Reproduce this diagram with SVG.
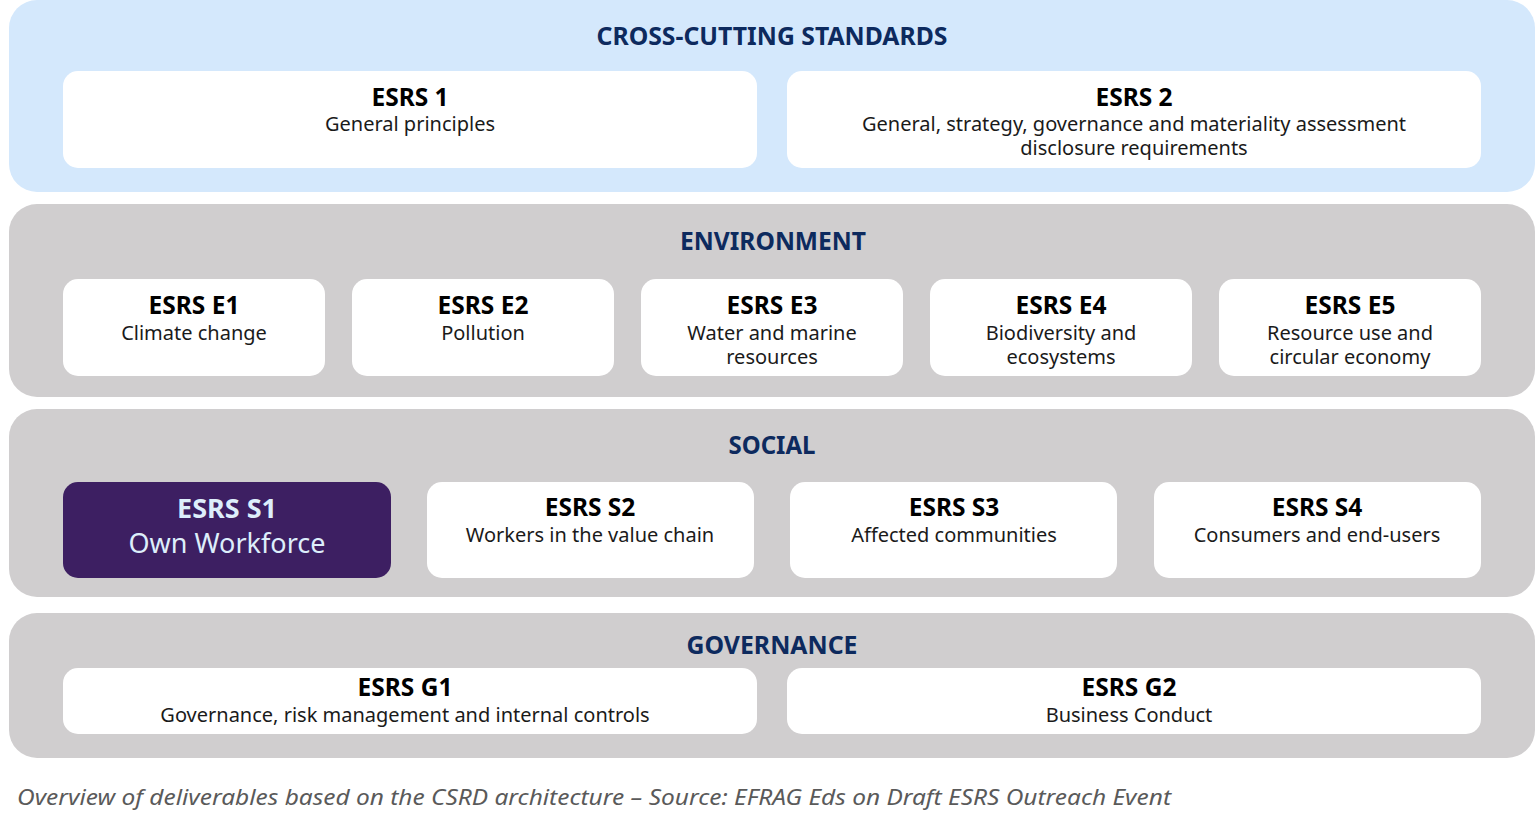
<svg xmlns="http://www.w3.org/2000/svg" width="1536" height="829" viewBox="0 0 1536 829">
<style>
.bg{fill:#ffffff}
.p-blue{fill:#D4E8FC}
.p-grey{fill:#D0CECF}
.box{fill:#ffffff}
.box-hi{fill:#3D1F62}
.head{font-family:"Noto Sans","Open Sans",sans-serif;font-weight:700;font-size:24.5px;fill:#0D2A5E;text-anchor:middle}
.t{font-family:"Noto Sans","Open Sans",sans-serif;font-weight:700;font-size:24.5px;fill:#000000;text-anchor:middle}
.d{font-family:"Noto Sans","Open Sans",sans-serif;font-size:20px;fill:#1a1a1a;text-anchor:middle}
.t-hi{font-family:"Noto Sans","Open Sans",sans-serif;font-weight:700;font-size:27px;fill:#DDEEFB;text-anchor:middle}
.d-hi{font-family:"Noto Sans","Open Sans",sans-serif;font-size:27px;fill:#DDEEFB;text-anchor:middle}
.cap{font-family:"Noto Sans","Open Sans",sans-serif;font-style:italic;font-size:22px;fill:#5A5A5A}
</style>
<rect class="bg" x="0" y="0" width="1536" height="829"/>

<g id="panel-cross-cutting">
<rect class="p-blue" x="9" y="0" width="1526" height="192" rx="28"/>
<text class="head" x="772" y="45" textLength="351" lengthAdjust="spacingAndGlyphs">CROSS-CUTTING STANDARDS</text>
</g>
<g id="panel-environment">
<rect class="p-grey" x="9" y="204" width="1526" height="193" rx="28"/>
<text class="head" x="773" y="250" textLength="186" lengthAdjust="spacingAndGlyphs">ENVIRONMENT</text>
</g>
<g id="panel-social">
<rect class="p-grey" x="9" y="409" width="1526" height="188" rx="28"/>
<text class="head" x="772" y="454" textLength="87" lengthAdjust="spacingAndGlyphs">SOCIAL</text>
</g>
<g id="panel-governance">
<rect class="p-grey" x="9" y="613" width="1526" height="145" rx="28"/>
<text class="head" x="772" y="654" textLength="171" lengthAdjust="spacingAndGlyphs">GOVERNANCE</text>
</g>

<g id="esrs1">
<rect class="box" x="63" y="71" width="694" height="97" rx="15"/>
<text class="t" x="410" y="106">ESRS 1</text>
<text class="d" x="410" y="131">General principles</text>
</g>
<g id="esrs2">
<rect class="box" x="787" y="71" width="694" height="97" rx="15"/>
<text class="t" x="1134" y="106">ESRS 2</text>
<text class="d" x="1134" y="131">General, strategy, governance and materiality assessment</text>
<text class="d" x="1134" y="155">disclosure requirements</text>
</g>

<g id="esrs-e1">
<rect class="box" x="63" y="279" width="262" height="97" rx="15"/>
<text class="t" x="194" y="314">ESRS E1</text>
<text class="d" x="194" y="340">Climate change</text>
</g>
<g id="esrs-e2">
<rect class="box" x="352" y="279" width="262" height="97" rx="15"/>
<text class="t" x="483" y="314">ESRS E2</text>
<text class="d" x="483" y="340">Pollution</text>
</g>
<g id="esrs-e3">
<rect class="box" x="641" y="279" width="262" height="97" rx="15"/>
<text class="t" x="772" y="314">ESRS E3</text>
<text class="d" x="772" y="340">Water and marine</text>
<text class="d" x="772" y="364">resources</text>
</g>
<g id="esrs-e4">
<rect class="box" x="930" y="279" width="262" height="97" rx="15"/>
<text class="t" x="1061" y="314">ESRS E4</text>
<text class="d" x="1061" y="340">Biodiversity and</text>
<text class="d" x="1061" y="364">ecosystems</text>
</g>
<g id="esrs-e5">
<rect class="box" x="1219" y="279" width="262" height="97" rx="15"/>
<text class="t" x="1350" y="314">ESRS E5</text>
<text class="d" x="1350" y="340">Resource use and</text>
<text class="d" x="1350" y="364">circular economy</text>
</g>

<g id="esrs-s1">
<rect class="box-hi" x="63" y="482" width="328" height="96" rx="15"/>
<text class="t-hi" x="227" y="518">ESRS S1</text>
<text class="d-hi" x="227" y="553">Own Workforce</text>
</g>
<g id="esrs-s2">
<rect class="box" x="427" y="482" width="327" height="96" rx="15"/>
<text class="t" x="590" y="516">ESRS S2</text>
<text class="d" x="590" y="542">Workers in the value chain</text>
</g>
<g id="esrs-s3">
<rect class="box" x="790" y="482" width="327" height="96" rx="15"/>
<text class="t" x="954" y="516">ESRS S3</text>
<text class="d" x="954" y="542">Affected communities</text>
</g>
<g id="esrs-s4">
<rect class="box" x="1154" y="482" width="327" height="96" rx="15"/>
<text class="t" x="1317" y="516">ESRS S4</text>
<text class="d" x="1317" y="542">Consumers and end-users</text>
</g>

<g id="esrs-g1">
<rect class="box" x="63" y="668" width="694" height="66" rx="15"/>
<text class="t" x="405" y="696">ESRS G1</text>
<text class="d" x="405" y="722">Governance, risk management and internal controls</text>
</g>
<g id="esrs-g2">
<rect class="box" x="787" y="668" width="694" height="66" rx="15"/>
<text class="t" x="1129" y="696">ESRS G2</text>
<text class="d" x="1129" y="722">Business Conduct</text>
</g>

<g id="connectors"></g>

<text class="cap" x="17" y="805" textLength="1154" lengthAdjust="spacingAndGlyphs">Overview of deliverables based on the CSRD architecture – Source: EFRAG Eds on Draft ESRS Outreach Event</text>
</svg>
